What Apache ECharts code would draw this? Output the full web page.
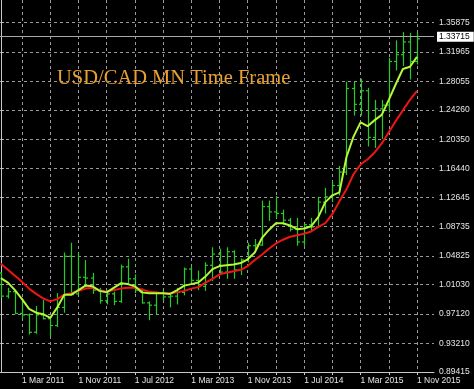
<!DOCTYPE html>
<html><head><meta charset="utf-8">
<script src="https://cdn.jsdelivr.net/npm/echarts@6/dist/echarts.min.js"></script>
<style>html,body{margin:0;padding:0;background:#000;}#c{width:474px;height:389px;}</style>
</head><body><div id="c"></div>
<script>
const months = ['Dec 2010',
 'Jan 2011','Feb 2011','Mar 2011','Apr 2011','May 2011','Jun 2011','Jul 2011','Aug 2011','Sep 2011','Oct 2011','Nov 2011','Dec 2011',
 'Jan 2012','Feb 2012','Mar 2012','Apr 2012','May 2012','Jun 2012','Jul 2012','Aug 2012','Sep 2012','Oct 2012','Nov 2012','Dec 2012',
 'Jan 2013','Feb 2013','Mar 2013','Apr 2013','May 2013','Jun 2013','Jul 2013','Aug 2013','Sep 2013','Oct 2013','Nov 2013','Dec 2013',
 'Jan 2014','Feb 2014','Mar 2014','Apr 2014','May 2014','Jun 2014','Jul 2014','Aug 2014','Sep 2014','Oct 2014','Nov 2014','Dec 2014',
 'Jan 2015','Feb 2015','Mar 2015','Apr 2015','May 2015','Jun 2015','Jul 2015','Aug 2015','Sep 2015','Oct 2015','Nov 2015'];

const open = [1.0260,
 0.9950,1.0010,0.9720,0.9700,0.9470,0.9700,0.9650,0.9560,0.9800,1.0480,0.9980,1.0200,
 1.0190,1.0030,0.9890,0.9980,0.9880,1.0340,1.0180,1.0030,0.9860,0.9830,0.9990,0.9940,
 0.9950,1.0000,1.0310,1.0160,1.0080,1.0360,1.0510,1.0270,1.0540,1.0300,1.0430,1.0620,
 1.0630,1.1140,1.1070,1.1050,1.0960,1.0840,1.0670,1.0900,1.0870,1.1200,1.1270,1.1420,
 1.1600,1.2710,1.2500,1.2680,1.2060,1.2440,1.2490,1.3070,1.3160,1.3330,1.3070];
const high = [1.0270,
 1.0060,1.0020,0.9920,0.9720,0.9820,0.9900,0.9670,0.9990,1.0530,1.0660,1.0525,1.0430,
 1.0260,1.0060,1.0030,1.0010,1.0370,1.0450,1.0240,1.0050,0.9880,1.0010,1.0030,0.9970,
 1.0060,1.0330,1.0340,1.0290,1.0400,1.0600,1.0580,1.0600,1.0560,1.0450,1.0660,1.0710,
 1.1220,1.1220,1.1280,1.1100,1.0990,1.0990,1.0910,1.0990,1.1270,1.1390,1.1470,1.1680,
 1.2800,1.2800,1.2840,1.2720,1.2560,1.2560,1.3120,1.3350,1.3460,1.3450,1.3460];
const low = [0.9930,
 0.9920,0.9710,0.9650,0.9440,0.9450,0.9640,0.9410,0.9540,0.9730,0.9960,0.9970,1.0070,
 0.9980,0.9850,0.9840,0.9830,0.9860,1.0100,0.9990,0.9850,0.9630,0.9710,0.9890,0.9800,
 0.9840,0.9960,1.0110,1.0030,1.0020,1.0150,1.0250,1.0180,1.0180,1.0230,1.0400,1.0560,
 1.0620,1.0950,1.0990,1.0900,1.0810,1.0620,1.0620,1.0810,1.0860,1.1050,1.1200,1.1290,
 1.1560,1.2350,1.2350,1.1940,1.1920,1.2040,1.2390,1.2950,1.3010,1.2830,1.3030];
const close = [0.9950,
 1.0010,0.9720,0.9700,0.9470,0.9700,0.9650,0.9560,0.9800,1.0480,0.9970,1.0200,1.0190,
 1.0030,0.9890,0.9980,0.9880,1.0340,1.0180,1.0030,0.9860,0.9830,0.9990,0.9940,0.9950,
 1.0000,1.0310,1.0160,1.0080,1.0360,1.0510,1.0270,1.0540,1.0300,1.0430,1.0620,1.0630,
 1.1140,1.1070,1.1050,1.0960,1.0840,1.0670,1.0900,1.0870,1.1200,1.1270,1.1420,1.1600,
 1.2710,1.2500,1.2680,1.2060,1.2440,1.2490,1.3070,1.3160,1.3330,1.3070,1.33715];

const fastMA = [1.019,
 1.013,1.003,0.991,0.978,0.973,0.971,0.966,0.980,0.997,0.997,1.003,1.009,
 1.008,1.002,1.000,1.006,1.012,1.011,1.008,1.000,0.999,0.999,0.999,0.998,
 1.003,1.009,1.011,1.013,1.021,1.031,1.035,1.036,1.037,1.039,1.044,1.053,
 1.072,1.083,1.092,1.092,1.089,1.084,1.085,1.088,1.100,1.120,1.129,1.133,
 1.180,1.207,1.226,1.221,1.229,1.236,1.256,1.277,1.297,1.300,1.313];
const slowMA = [1.038,
 1.030,1.022,1.014,1.005,0.998,0.992,0.988,0.991,0.997,0.999,1.002,1.005,
 1.006,1.003,1.001,1.003,1.005,1.006,1.006,1.004,1.001,1.000,0.999,0.999,
 1.000,1.002,1.005,1.007,1.013,1.018,1.024,1.026,1.028,1.030,1.035,1.043,
 1.050,1.058,1.065,1.070,1.074,1.076,1.078,1.081,1.087,1.092,1.104,1.121,
 1.137,1.157,1.170,1.177,1.186,1.198,1.213,1.228,1.242,1.256,1.268];

const yTickLabels = ['0.89415','0.93210','0.97120','1.01030','1.04825','1.08735','1.12645',
 '1.16440','1.20350','1.24260','1.28055','1.31965','1.35875'];
const xLabelMonths = ['Mar 2011','Nov 2011','Jul 2012','Mar 2013','Nov 2013','Jul 2014','Mar 2015','Nov 2015'];
const xGridMonths = ['Mar 2011','Jul 2011','Nov 2011','Mar 2012','Jul 2012','Nov 2012','Mar 2013','Jul 2013',
 'Nov 2013','Mar 2014','Jul 2014','Nov 2014','Mar 2015','Jul 2015','Nov 2015'];
const currentPrice = 1.33715;
const titleText = 'USD/CAD MN Time Frame';

const barColor = '#26cc26';
const gridColor = '#9a9a9a';
const labelFont = 'Liberation Sans';

const ohlc = months.map((m, i) => [i, open[i], high[i], low[i], close[i]]);
const yVals = yTickLabels.map(Number);
const xLabelIdx = xLabelMonths.map(m => months.indexOf(m));
const xGridIdx = xGridMonths.map(m => months.indexOf(m));

const chart = echarts.init(document.getElementById('c'), null, {renderer: 'canvas'});
chart.setOption({
  backgroundColor: '#000',
  animation: false,
  grid: {left: 0, right: 40, top: 0, bottom: 17, containLabel: false},
  xAxis: {
    type: 'value', min: -0.12, max: 61.41,
    axisLine: {show: true, lineStyle: {color: '#c8c8c8', width: 1}},
    axisTick: {show: true, length: 3, customValues: xGridIdx, lineStyle: {color: '#c8c8c8'}},
    axisLabel: {
      customValues: xLabelIdx, align: 'left', margin: 4,
      color: '#e6e6e6', fontFamily: labelFont, fontSize: 8.5,
      formatter: v => '1 ' + months[Math.round(v)]
    },
    splitLine: {show: true, lineStyle: {color: gridColor, type: [3, 3], width: 1}}
  },
  yAxis: {
    type: 'value', position: 'right', min: 0.89415, max: 1.3887, scale: true,
    axisLine: {show: true, lineStyle: {color: '#c8c8c8', width: 1}},
    axisTick: {show: true, length: 3, customValues: yVals, lineStyle: {color: '#c8c8c8'}},
    axisLabel: {
      customValues: yVals, margin: 5, color: '#e6e6e6', fontFamily: labelFont, fontSize: 8.5,
      formatter: v => v.toFixed(5)
    },
    splitLine: {show: true, lineStyle: {color: gridColor, type: [3, 3], width: 1}}
  },
  graphic: [{
    type: 'text', left: 57, top: 68, z: 1,
    style: {text: titleText, fill: '#e8a030', font: '20.5px "Liberation Serif"'}
  }],
  series: [
    {
      type: 'custom', name: 'bars', clip: true,
      encode: {x: 0, y: [1, 2, 3, 4]},
      data: ohlc,
      renderItem: function (params, api) {
        const i = api.value(0);
        const o = api.coord([i, api.value(1)]);
        const h = api.coord([i, api.value(2)]);
        const l = api.coord([i, api.value(3)]);
        const c = api.coord([i, api.value(4)]);
        const px = Math.round(o[0]) + 0.5;
        const st = {stroke: barColor, lineWidth: 1.2};
        return {type: 'group', children: [
          {type: 'line', shape: {x1: px, y1: h[1], x2: px, y2: l[1]}, style: st},
          {type: 'line', shape: {x1: px - 2.5, y1: o[1], x2: px, y2: o[1]}, style: st},
          {type: 'line', shape: {x1: px, y1: c[1], x2: px + 2.5, y2: c[1]}, style: st}
        ]};
      }
    },
    {
      type: 'line', name: 'slow', showSymbol: false, symbol: 'none',
      data: slowMA.map((v, i) => [i, v]),
      lineStyle: {color: '#ee1515', width: 2}
    },
    {
      type: 'line', name: 'fast', showSymbol: false, symbol: 'none',
      data: fastMA.map((v, i) => [i, v]),
      lineStyle: {color: '#b4f83a', width: 2},
      markLine: {
        silent: true, symbol: ['none', 'none'],
        data: [{yAxis: currentPrice}],
        lineStyle: {color: '#a8a8a8', type: 'solid', width: 1},
        label: {
          position: 'end', distance: 3, formatter: currentPrice.toFixed(5),
          backgroundColor: '#ffffff', color: '#000', padding: [1, 4, 0, 2],
          fontFamily: labelFont, fontSize: 8.5
        }
      }
    }
  ]
});
</script>
</body></html>
